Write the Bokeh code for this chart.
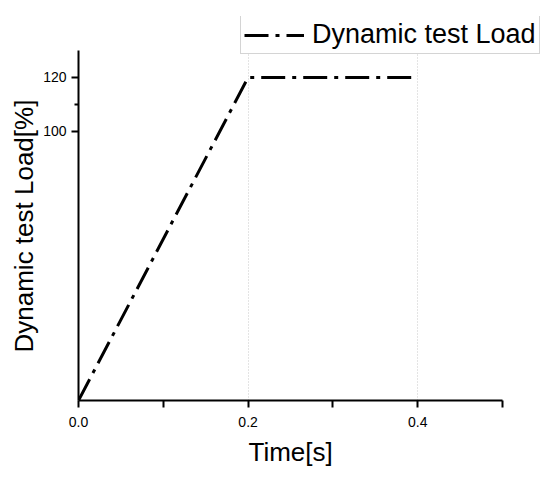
from bokeh.plotting import figure
from bokeh.models import (Range1d, FixedTicker, Legend, LegendItem, ColumnDataSource, Title)
from bokeh.embed import file_html
from bokeh.resources import INLINE

# Data
time_s = [0.0, 0.2, 0.4]
load_pct = [0, 120, 120]
series_name = "Dynamic test Load"
x_ticks = [0.0, 0.1, 0.2, 0.3, 0.4, 0.5]
x_tick_labels = {0.0: "0.0", 0.1: "", 0.2: "0.2", 0.3: "", 0.4: "0.4", 0.5: ""}
y_ticks = [100, 120]
y_minor_ticks = [110]
x_grid_ticks = [0.2, 0.4]
x_axis_extent = (0.0, 0.5)
y_axis_extent = (0, 130)

FONT = "Liberation Sans"

# frame: left 78, right 543, top 16, bottom 400 (px). Axis lines span 78..502 and 50..400
x_px_per_unit = 424 / 0.5
y_px_per_unit = 350 / 130
x_end = (543 - 78) / x_px_per_unit
y_end = (400 - 16) / y_px_per_unit

p = figure(width=550, height=478, output_backend="svg", toolbar_location=None,
           x_range=Range1d(0, x_end), y_range=Range1d(0, y_end),
           min_border_left=78, min_border_right=7, min_border_top=16, min_border_bottom=78)
p.outline_line_color = None
p.background_fill_color = "white"
p.border_fill_color = "white"

src = ColumnDataSource(dict(x=time_s, y=load_pct))
r = p.line("x", "y", source=src, line_color="black", line_width=3,
           line_dash="24 7 4 7", line_cap="butt")

# Axes
xa = p.xaxis[0]
xa.ticker = FixedTicker(ticks=x_ticks, minor_ticks=[])
xa.major_label_overrides = x_tick_labels
xa.bounds = x_axis_extent
ya = p.yaxis[0]
ya.ticker = FixedTicker(ticks=y_ticks, minor_ticks=y_minor_ticks)
ya.bounds = y_axis_extent
for ax in (xa, ya):
    ax.axis_line_width = 2
    ax.axis_line_color = "black"
    ax.major_tick_line_width = 2
    ax.major_tick_line_color = "black"
    ax.major_tick_in = 0
    ax.major_tick_out = 7
    ax.minor_tick_line_width = 2
    ax.minor_tick_line_color = "black"
    ax.minor_tick_in = 0
    ax.minor_tick_out = 4
    ax.major_label_text_font = FONT
    ax.major_label_text_font_size = "14px"
    ax.major_label_text_color = "black"
xa.major_label_standoff = 9
ya.major_label_standoff = 5

# Axis titles (placed along the axis extent, not the extended frame)
xtitle = Title(text="Time[s]", align="left", offset=170, standoff=14,
               vertical_align="top",
               text_font=FONT, text_font_size="26px", text_font_style="normal",
               text_color="black")
p.add_layout(xtitle, "below")
ytitle = Title(text="Dynamic test Load[%]", align="left", offset=48, standoff=4,
               text_font=FONT, text_font_size="26px", text_font_style="normal",
               text_color="black")
p.add_layout(ytitle, "left")

# Grid
p.ygrid.visible = False
p.xgrid.ticker = FixedTicker(ticks=x_grid_ticks)
p.xgrid.grid_line_color = "#c8c8c8"
p.xgrid.grid_line_dash = "1 2"
p.xgrid.grid_line_width = 1

# Legend
legend = Legend(items=[LegendItem(label=series_name, renderers=[r])],
                location=(162, 346), glyph_width=60, glyph_height=20,
                label_standoff=8, padding=3, spacing=0, margin=0,
                label_text_font=FONT, label_text_font_size="27px",
                label_text_color="black",
                border_line_color="#aaaaaa", border_line_width=1,
                background_fill_color="white", background_fill_alpha=1)
p.add_layout(legend, "center")

open("out.html", "w").write(file_html(p, INLINE))
